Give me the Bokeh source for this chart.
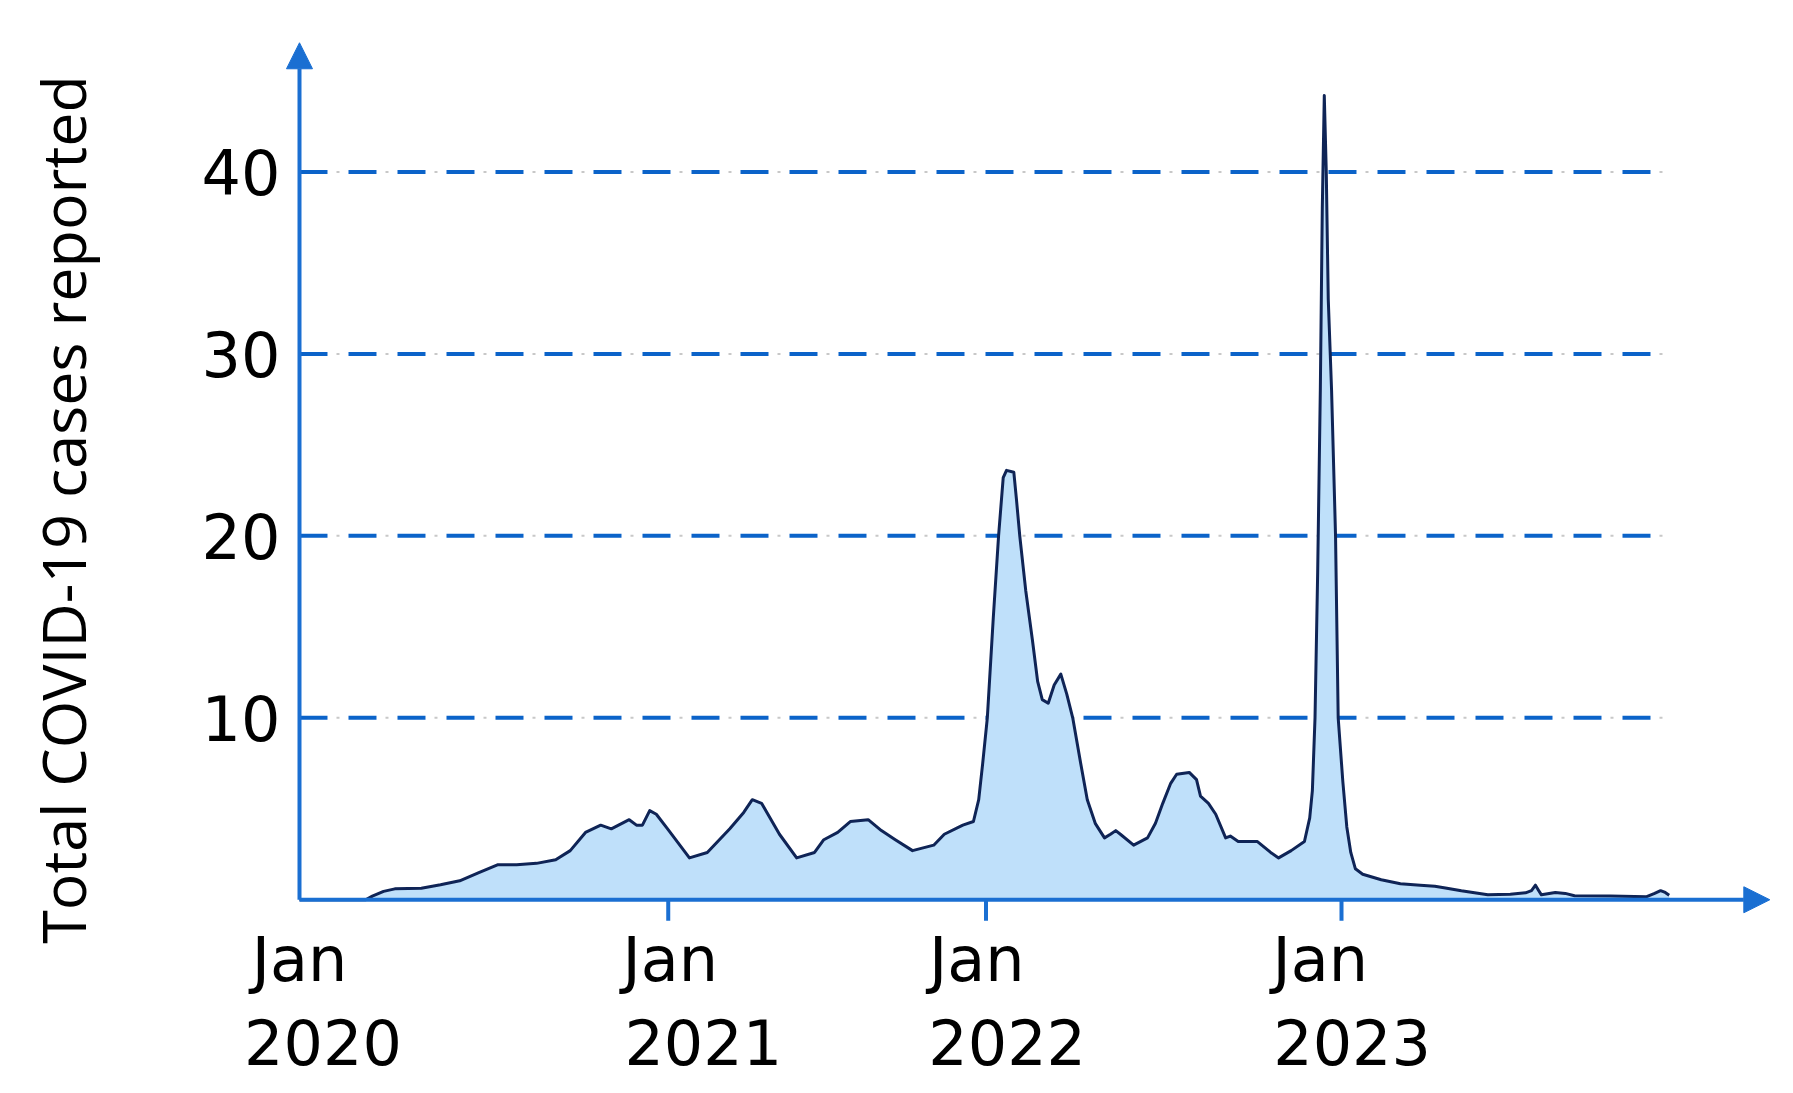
import math
from bokeh.plotting import figure
from bokeh.layouts import row
from bokeh.models import Range1d, LinearAxis, FixedTicker, Arrow, NormalHead
from bokeh.core.properties import value
from bokeh.embed import file_html
from bokeh.resources import INLINE

# ---- data (x = weeks from the Jan 2020 origin, y = total cases reported) ----
weeks = [0, 10.0, 11.0, 12.7, 14.4, 18.4, 21.3, 24.2, 27.0, 29.9, 32.8, 35.8, 38.7, 40.9, 43.2, 45.5,
         47.1, 49.8, 50.9, 51.8, 52.9, 53.9, 55.6, 58.9, 61.6, 65.0, 67.1, 68.4, 69.8, 72.5, 75.1,
         77.8, 79.2, 81.3, 83.2, 85.9, 87.9, 90.0, 92.6, 95.8, 97.4, 100.2, 101.8, 102.6, 103.2,
         103.9, 104.8, 105.6, 106.3, 106.8, 107.9, 108.3, 108.8, 109.7, 110.7, 111.5, 112.2, 113.1,
         114.0, 115.0, 115.9, 116.8, 118.0, 119.0, 120.2, 121.6, 122.5, 123.3, 124.0, 126.0, 128.1,
         129.3, 130.4, 131.6, 132.5, 134.4, 135.5, 136.1, 137.3, 138.4, 139.9, 140.6, 141.8, 144.7,
         146.7, 147.9, 149.8, 151.8, 152.6, 153.0, 153.4, 153.8, 154.2, 154.5, 154.8, 155.1, 155.4,
         155.9, 156.5, 156.9, 157.6, 158.2, 158.8, 159.5, 160.6, 163.4, 166.3, 169.3, 171.5, 173.1,
         175.5, 179.5, 182.9, 185.2, 186.1, 186.7, 187.2, 187.6, 189.7, 191.2, 192.6, 198.0, 203.5,
         204.7, 205.6, 206.3, 206.9]
cases = [0, 0, 0.2, 0.46, 0.6, 0.63, 0.82, 1.04, 1.48, 1.92, 1.92, 2.0, 2.2, 2.7, 3.7, 4.1,
         3.9, 4.4, 4.1, 4.1, 4.9, 4.7, 3.9, 2.3, 2.6, 3.9, 4.8, 5.5, 5.3, 3.6, 2.3,
         2.6, 3.3, 3.7, 4.3, 4.4, 3.8, 3.3, 2.7, 3.0, 3.6, 4.1, 4.3, 5.5, 7.5,
         10.0, 15.5, 20.0, 23.2, 23.6, 23.5, 22.0, 20.0, 17.0, 14.3, 12.0, 11.0, 10.8,
         11.8, 12.4, 11.3, 10.0, 7.5, 5.5, 4.2, 3.4, 3.6, 3.8, 3.6, 3.0, 3.4,
         4.2, 5.3, 6.4, 6.9, 7.0, 6.6, 5.7, 5.3, 4.7, 3.4, 3.5, 3.2, 3.2,
         2.6, 2.3, 2.7, 3.2, 4.5, 6.0, 10.0, 18.0, 28.0, 38.0, 44.2, 40.0, 33.0,
         28.0, 20.0, 10.0, 6.5, 4.0, 2.6, 1.7, 1.4, 1.1, 0.88, 0.8, 0.74, 0.65,
         0.49, 0.27, 0.3, 0.38, 0.5, 0.8, 0.5, 0.27, 0.4, 0.35, 0.22, 0.2, 0.17,
         0.35, 0.5, 0.4, 0.25]

y_title = "Total COVID-19 cases reported"
y_ticks = [10, 20, 30, 40]
x_tick_weeks = [55.7, 103.7, 157.4]
month_label_weeks = [0.0, 56.0, 102.3, 154.2]
month_labels = ["Jan", "Jan", "Jan", "Jan"]
year_label_weeks = [3.55, 61.0, 106.9, 159.0]
year_labels = ["2020", "2021", "2022", "2023"]
grid_end_week = 207.1
x_start, x_end = -2.87, 223.26
y_start, y_end = -1.25, 47.5
arrow_x_tip, arrow_y_tip = 222.1, 47.1
tick_len = 1.15

AXIS = "#1a6fd2"
GRID = "#0b63c9"
FILL = "#bfe0fa"
LINE = "#0f2456"
TICK_FONT = "DejaVu Sans"

# ---- narrow panel holding the rotated y-axis title ----
TW, TH = 120, 1080
tp = figure(frame_width=TW, frame_height=TH, x_range=Range1d(0, TW), y_range=Range1d(0, TH),
            x_axis_type=None, y_axis_type=None, output_backend="svg", toolbar_location=None,
            min_border=0, outline_line_color=None)
tp.grid.visible = False
tp.text(x=[61.5], y=[TH - 474], text=[y_title], angle=math.pi / 2,
        text_align="center", text_baseline="middle", text_font=value("Open Sans"),
        text_font_size="61px", text_color="black")

# ---- main chart ----
p = figure(frame_width=1497, frame_height=887,
           x_range=Range1d(x_start, x_end), y_range=Range1d(y_start, y_end),
           x_axis_type=None, output_backend="svg", toolbar_location=None,
           min_border_left=280 - TW, min_border_top=35, min_border_right=0, min_border_bottom=168,
           outline_line_color=None, background_fill_color="white", border_fill_color="white")
p.xgrid.visible = False
p.ygrid.visible = False

ya = p.yaxis[0]
ya.ticker = FixedTicker(ticks=y_ticks)
ya.axis_line_color = None
ya.major_tick_line_color = None
ya.minor_tick_line_color = None
ya.major_tick_out = 0
ya.major_tick_in = 0
ya.major_label_standoff = 0
ya.major_label_text_font = TICK_FONT
ya.major_label_text_font_size = "62px"
ya.major_label_text_color = "black"

# gridlines (faint grey dots + blue dashes)
n = len(y_ticks)
p.segment(x0=[0] * n, y0=y_ticks, x1=[grid_end_week] * n, y1=y_ticks,
          line_color="#c8c8c8", line_width=2, line_dash="3 46", line_dash_offset=12)
p.segment(x0=[0] * n, y0=y_ticks, x1=[grid_end_week] * n, y1=y_ticks,
          line_color=GRID, line_width=4, line_dash="28 21")

# area + outline
p.varea(x=weeks, y1=[0] * len(cases), y2=cases, fill_color=FILL)
p.line(x=weeks, y=cases, line_color=LINE, line_width=3, line_join="round")

# axis lines with arrow heads
p.add_layout(Arrow(end=NormalHead(size=26, fill_color=AXIS, line_color=AXIS),
                   x_start=0, y_start=0, x_end=arrow_x_tip, y_end=0,
                   line_color=AXIS, line_width=4))
p.add_layout(Arrow(end=NormalHead(size=26, fill_color=AXIS, line_color=AXIS),
                   x_start=0, y_start=0, x_end=0, y_end=arrow_y_tip,
                   line_color=AXIS, line_width=4))

# x tick marks
k = len(x_tick_weeks)
p.segment(x0=x_tick_weeks, y0=[0] * k, x1=x_tick_weeks, y1=[-tick_len] * k,
          line_color=AXIS, line_width=4)

# x labels: month row and year row
xm = LinearAxis(ticker=FixedTicker(ticks=month_label_weeks), axis_line_color=None,
                major_tick_line_color=None, minor_tick_line_color=None,
                major_tick_out=0, major_tick_in=0,
                major_label_overrides={w: t for w, t in zip(month_label_weeks, month_labels)},
                major_label_text_font=TICK_FONT, major_label_text_font_size="62px",
                major_label_text_color="black", major_label_standoff=0)
p.add_layout(xm, "below")
xy = LinearAxis(ticker=FixedTicker(ticks=year_label_weeks), axis_line_color=None,
                major_tick_line_color=None, minor_tick_line_color=None,
                major_tick_out=0, major_tick_in=0,
                major_label_overrides={w: t for w, t in zip(year_label_weeks, year_labels)},
                major_label_text_font=TICK_FONT, major_label_text_font_size="62px",
                major_label_text_color="black", major_label_standoff=20)
p.add_layout(xy, "below")

layout = row(tp, p, spacing=0)
open("out.html", "w").write(file_html(layout, INLINE))
